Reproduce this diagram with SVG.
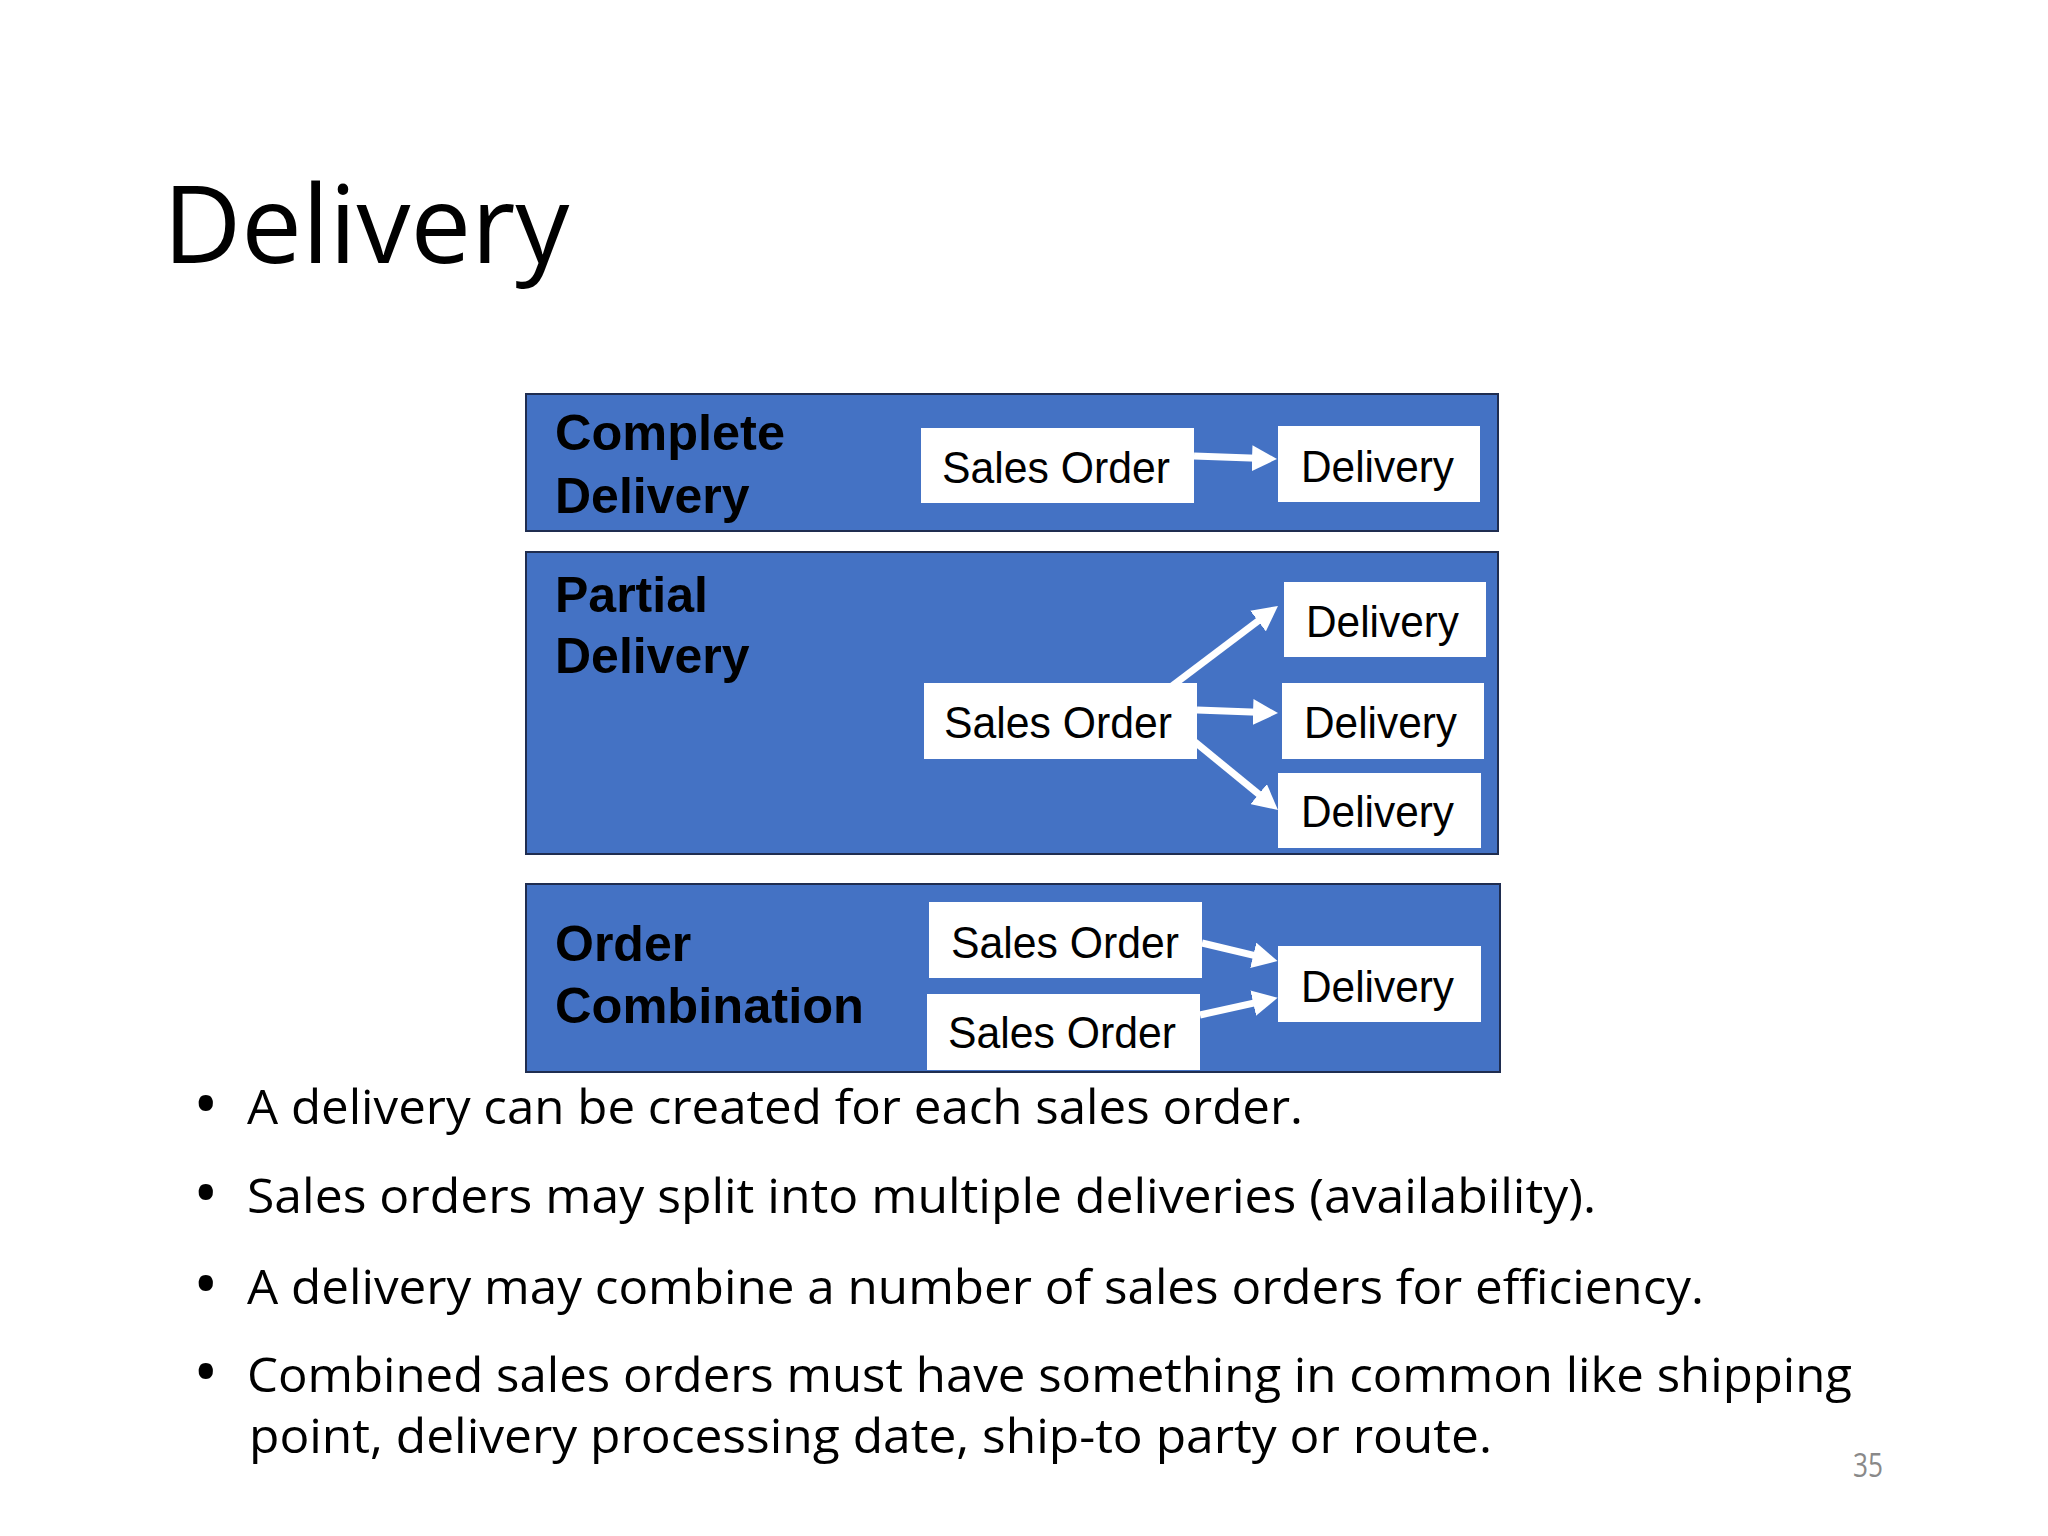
<svg xmlns="http://www.w3.org/2000/svg" width="2048" height="1536" viewBox="0 0 2048 1536">
<defs>
<marker id="ah" markerUnits="userSpaceOnUse" markerWidth="26" markerHeight="26" refX="5" refY="13" orient="auto" viewBox="0 0 26 26">
<path d="M0,0 L25,13 L0,26 z" fill="#ffffff"/>
</marker>
<style>
.panel{fill:#4472C4;stroke:#1f2d50;stroke-width:2}
.box{fill:#ffffff}
.lbl{font-family:"Liberation Sans",Arial,sans-serif;font-weight:bold;font-size:50px;fill:#000}
.bt{font-family:"Liberation Sans",Arial,sans-serif;font-size:45px;fill:#000}
.conn{stroke:#ffffff;stroke-width:7;fill:none;marker-end:url(#ah)}
.body{font-family:"Open Sans","Noto Sans",sans-serif;font-size:48px;fill:#000}
.dot{font-family:"Open Sans","Noto Sans",sans-serif;font-size:68px;fill:#000}
</style>
</defs>
<rect width="2048" height="1536" fill="#ffffff"/>
<text x="163" y="263" font-family="'Open Sans','Noto Sans',sans-serif" font-size="108" fill="#000">Delivery</text>

<g id="panel-complete">
<rect class="panel" x="526" y="394" width="972" height="137"/>
<text class="lbl" x="555" y="450" textLength="230" lengthAdjust="spacingAndGlyphs">Complete</text>
<text class="lbl" x="555" y="513">Delivery</text>
</g>
<g id="c-so">
<rect class="box" x="921" y="428" width="273" height="75"/>
<text class="bt" x="942" y="483" textLength="228" lengthAdjust="spacingAndGlyphs">Sales Order</text>
</g>
<g id="c-del">
<rect class="box" x="1278" y="426" width="202" height="76"/>
<text class="bt" x="1301" y="482" textLength="153" lengthAdjust="spacingAndGlyphs">Delivery</text>
</g>

<g id="panel-partial">
<rect class="panel" x="526" y="552" width="972" height="302"/>
<text class="lbl" x="555" y="612">Partial</text>
<text class="lbl" x="555" y="673">Delivery</text>
</g>
<g id="p-so">
<rect class="box" x="924" y="683" width="273" height="76"/>
<text class="bt" x="944" y="738" textLength="228" lengthAdjust="spacingAndGlyphs">Sales Order</text>
</g>
<g id="p-del1">
<rect class="box" x="1284" y="582" width="202" height="75"/>
<text class="bt" x="1306" y="637" textLength="153" lengthAdjust="spacingAndGlyphs">Delivery</text>
</g>
<g id="p-del2">
<rect class="box" x="1282" y="683" width="202" height="76"/>
<text class="bt" x="1304" y="738" textLength="153" lengthAdjust="spacingAndGlyphs">Delivery</text>
</g>
<g id="p-del3">
<rect class="box" x="1278" y="773" width="203" height="75"/>
<text class="bt" x="1301" y="827" textLength="153" lengthAdjust="spacingAndGlyphs">Delivery</text>
</g>

<g id="panel-combination">
<rect class="panel" x="526" y="884" width="974" height="188"/>
<text class="lbl" x="555" y="961">Order</text>
<text class="lbl" x="555" y="1023" textLength="309" lengthAdjust="spacingAndGlyphs">Combination</text>
</g>
<g id="o-so1">
<rect class="box" x="929" y="902" width="273" height="76"/>
<text class="bt" x="951" y="958" textLength="228" lengthAdjust="spacingAndGlyphs">Sales Order</text>
</g>
<g id="o-so2">
<rect class="box" x="927" y="994" width="273" height="76"/>
<text class="bt" x="948" y="1048" textLength="228" lengthAdjust="spacingAndGlyphs">Sales Order</text>
</g>
<g id="o-del">
<rect class="box" x="1278" y="946" width="203" height="76"/>
<text class="bt" x="1301" y="1002" textLength="153" lengthAdjust="spacingAndGlyphs">Delivery</text>
</g>

<g id="connectors">
<line class="conn" x1="1194" y1="456" x2="1257" y2="458.3"/>
<line class="conn" x1="1168" y1="689" x2="1262" y2="618"/>
<line class="conn" x1="1197" y1="710" x2="1258" y2="712.3"/>
<line class="conn" x1="1195" y1="742" x2="1262.5" y2="797.3"/>
<line class="conn" x1="1202" y1="943" x2="1258.1" y2="956.4"/>
<line class="conn" x1="1200" y1="1015" x2="1258.1" y2="1002.1"/>
</g>

<g id="bullets">
<text class="dot" x="193" y="1128">•</text>
<text class="body" x="247" y="1124" textLength="1056" lengthAdjust="spacingAndGlyphs">A delivery can be created for each sales order.</text>
<text class="dot" x="193" y="1217">•</text>
<text class="body" x="247" y="1213" textLength="1349" lengthAdjust="spacingAndGlyphs">Sales orders may split into multiple deliveries (availability).</text>
<text class="dot" x="193" y="1308">•</text>
<text class="body" x="247" y="1304" textLength="1457" lengthAdjust="spacingAndGlyphs">A delivery may combine a number of sales orders for efficiency.</text>
<text class="dot" x="193" y="1396">•</text>
<text class="body" x="247" y="1392" textLength="1605" lengthAdjust="spacingAndGlyphs">Combined sales orders must have something in common like shipping</text>
<text class="body" x="249" y="1453" textLength="1243" lengthAdjust="spacingAndGlyphs">point, delivery processing date, ship-to party or route.</text>
</g>
<text x="1853" y="1477" font-family="'Open Sans','Noto Sans',sans-serif" font-size="32" fill="#898989" textLength="30" lengthAdjust="spacingAndGlyphs">35</text>
</svg>
